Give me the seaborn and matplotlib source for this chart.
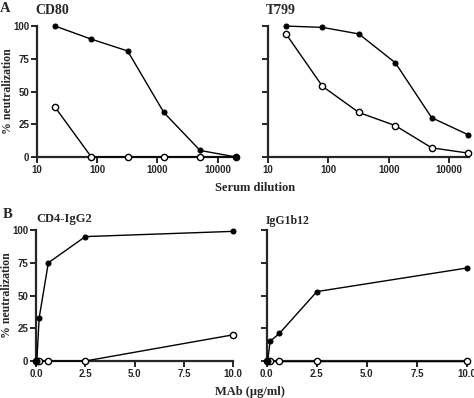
import numpy as np
import pandas as pd
import matplotlib
matplotlib.use("Agg")
import matplotlib.pyplot as plt
import seaborn as sns

# serum dilutions (panel A)
dilutions = [20, 80, 320, 1280, 5120, 20480]
cd80_filled = [100, 90, 81, 34, 5, 0]
cd80_open = [38, 0, 0, 0, 0, 0]
t799_filled = [100, 99, 94, 72, 30, 17]
t799_open = [94, 54, 34, 24, 7, 3]

# MAb concentration, ug/ml (panel B)
mab_conc = [0, 0.04, 0.16, 0.625, 2.5, 10]
cd4igg2_filled = [0, 0, 33, 75, 95, 99]
cd4igg2_open = [0, 0, 0, 0, 0, 20]
igg1b12_filled = [0, 0, 15, 21, 53, 71]
igg1b12_open = [0, 0, 0, 0, 0, 0]

y_ticks = [0, 25, 50, 75, 100]
log_ticks = [10, 100, 1000, 10000]
lin_ticks = [0.0, 2.5, 5.0, 7.5, 10.0]

sns.set_style("ticks")
plt.rcParams['font.family'] = ['Liberation Sans', 'DejaVu Sans']

fig = plt.figure(figsize=(4.74, 3.98), dpi=100)
ax_a1 = fig.add_axes([0.078, 0.6055, 0.422, 0.329])
ax_a2 = fig.add_axes([0.565, 0.6055, 0.424, 0.329])
ax_b1 = fig.add_axes([0.076, 0.093, 0.416, 0.329])
ax_b2 = fig.add_axes([0.563, 0.093, 0.422, 0.329])

serif = dict(family='Liberation Serif', weight='bold')


def draw(ax, x, filled, opened):
    df = pd.DataFrame({'x': x, 'filled': filled, 'open': opened})
    sns.lineplot(data=df, x='x', y='open', ax=ax, color='black', lw=1.0,
                 marker='o', markersize=4.5, markerfacecolor='white',
                 markeredgecolor='black', markeredgewidth=1.0,
                 estimator=None, sort=False, clip_on=False, zorder=3)
    sns.lineplot(data=df, x='x', y='filled', ax=ax, color='black', lw=1.0,
                 marker='o', markersize=3.6, markerfacecolor='black',
                 markeredgecolor='black', estimator=None, sort=False,
                 clip_on=False, zorder=4)
    ax.set_ylim(0, 100)
    ax.set_yticks(y_ticks)
    ax.set_xlabel('')
    ax.set_ylabel('')
    for s in ['left', 'bottom']:
        ax.spines[s].set_linewidth(1.6)
    sns.despine(ax=ax)
    ax.tick_params(width=1.4, length=4, labelsize=7, pad=1.5)


for ax, f, o, title in [(ax_a1, cd80_filled, cd80_open, 'CD80'),
                        (ax_a2, t799_filled, t799_open, 'T799')]:
    draw(ax, dilutions, f, o)
    ax.set_xscale('log')
    ax.set_xlim(10, 21000)
    ax.set_xticks(log_ticks)
    ax.set_xticklabels([str(t) for t in log_ticks], fontweight='bold')
    ax.minorticks_off()
    ax.set_title(title, fontsize=10, loc='left', x=-0.01, pad=9, **serif)

draw(ax_b1, mab_conc, cd4igg2_filled, cd4igg2_open)
draw(ax_b2, mab_conc, igg1b12_filled, igg1b12_open)
for ax in [ax_b1, ax_b2]:
    ax.set_xlim(0, 10)
    ax.set_xticks(lin_ticks)
    ax.set_xticklabels([f'{t:.1f}' for t in lin_ticks], fontweight='bold')
ax_b1.set_title('CD4-IgG2', fontsize=9, loc='left', x=0.0, pad=6, **serif)
ax_b2.set_title('IgG1b12', fontsize=8.5, loc='left', x=-0.005, pad=4, **serif)

for ax in [ax_a2, ax_b2]:
    ax.set_yticklabels([])

for ax in [ax_a1, ax_b1]:
    ax.set_yticklabels([str(t) for t in y_ticks], fontweight='bold')
    ax.set_ylabel('% neutralization', fontsize=8.5, **serif)
    ax.yaxis.set_label_coords(-0.115, 0.5)

fig.text(0.0, 0.995, 'A', fontsize=10.5, va='top', **serif)
fig.text(0.006, 0.478, 'B', fontsize=10.5, va='top', **serif)
fig.text(0.538, 0.527, 'Serum dilution', fontsize=9, ha='center', va='center', **serif)
fig.text(0.528, 0.016, 'MAb (\u03bcg/ml)', fontsize=9, ha='center', va='center', **serif)

fig.savefig('out.png', dpi=100)
